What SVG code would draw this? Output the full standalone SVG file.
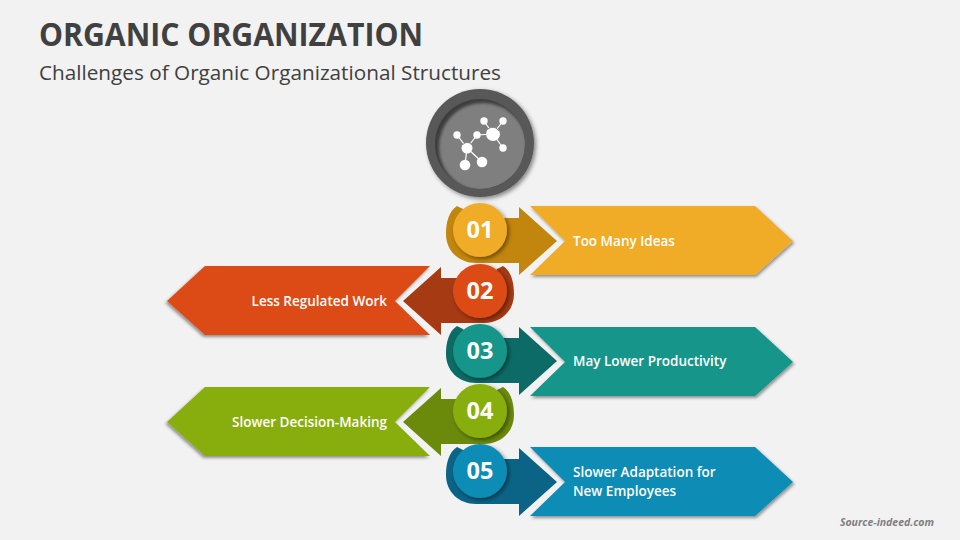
<svg xmlns="http://www.w3.org/2000/svg" width="960" height="540" viewBox="0 0 960 540">
<style>
.title{font:700 32px "Open Sans",sans-serif;fill:#404040}
.sub{font:400 20.730px "Open Sans",sans-serif;fill:#404040}
.lbl{font:600 13.500px "Open Sans",sans-serif;fill:#fff}
.num{font:700 23.500px "Open Sans",sans-serif;fill:#fff;text-anchor:middle}
.src{font:italic 700 10.500px "Open Sans",sans-serif;fill:#7f7f7f;text-anchor:end}
.dot{fill:#fff}
</style>
<defs>
<filter id="s" x="-20%" y="-20%" width="140%" height="140%"><feDropShadow dx="1.500" dy="2" stdDeviation="1.500" flood-color="#000" flood-opacity=".4"/></filter>
<filter id="c" x="-20%" y="-20%" width="140%" height="140%"><feDropShadow dx="2" dy="2" stdDeviation="2" flood-color="#000" flood-opacity=".45"/></filter>
<filter id="b" x="-20%" y="-20%" width="140%" height="140%"><feGaussianBlur stdDeviation="1.500"/></filter>
<clipPath id="ic"><circle cx="480" cy="144" r="45"/></clipPath>
<path id="box" d="M530 206L755 206L793 241L755 275L530 275L565 241Z"/>
<path id="arr" d="M457 206C449 211 446 222 446 234C446 251 459 263 476 263L519 263L519 275L557 241L519 207L519 218L470 218L463 209Z"/>
</defs>
<rect width="960" height="540" fill="#f2f2f2"/>
<text class="title" x="39" y="46" textLength="384" lengthAdjust="spacingAndGlyphs">ORGANIC ORGANIZATION</text>
<text class="sub" x="39" y="80">Challenges of Organic Organizational Structures</text>
<g id="hub">
<circle cx="480" cy="143" r="54" fill="#595959" filter="url(#c)"/>
<circle cx="480" cy="144" r="45" fill="#3d3d3d"/>
<g clip-path="url(#ic)"><circle cx="483" cy="147" r="44" fill="#7f7f7f" filter="url(#b)"/></g>
<path d="M457 135L467 148L465 165M467 148L482 162M467 148L477 135L493 134L484 121M493 134L503 121M493 134L503 148" fill="none" stroke="#fff" stroke-width="1.200"/>
<circle class="dot" cx="457" cy="135" r="3.700"/><circle class="dot" cx="477" cy="135" r="3.700"/><circle class="dot" cx="493" cy="134" r="7"/><circle class="dot" cx="484" cy="121" r="3.700"/><circle class="dot" cx="503" cy="121" r="3.700"/><circle class="dot" cx="503" cy="148" r="3.700"/><circle class="dot" cx="467" cy="148" r="5.500"/><circle class="dot" cx="465" cy="165" r="5.300"/><circle class="dot" cx="482" cy="162" r="5.300"/>
<path d="M488 129A7 7 0 0 1 499 131M462.500 145A5.500 5.500 0 0 1 471.500 144.500" fill="none" stroke="#7f7f7f" stroke-width="1"/>
</g>
<g id="step5">
<use href="#box" y="241" fill="#0f8cb5" filter="url(#s)"/>
<use href="#arr" y="241" fill="#0b6486"/>
<circle cx="480" cy="471" r="27" fill="#0f8cb5" filter="url(#c)"/>
<text class="num" x="480" y="479">05</text>
<text class="lbl" x="573" y="477">Slower Adaptation for</text>
<text class="lbl" x="573" y="496">New Employees</text>
</g>
<g id="step4">
<use href="#box" transform="matrix(-1 0 0 1 960 181)" fill="#88ae0f" filter="url(#s)"/>
<use href="#arr" transform="matrix(-1 0 0 1 960 181)" fill="#6b8a0b"/>
<circle cx="480" cy="411" r="27" fill="#88ae0f" filter="url(#c)"/>
<text class="num" x="480" y="419">04</text>
<text class="lbl" x="387" y="427" text-anchor="end">Slower Decision-Making</text>
</g>
<g id="step3">
<use href="#box" y="121" fill="#12958b" filter="url(#s)"/>
<use href="#arr" y="120" fill="#0c6b66"/>
<circle cx="480" cy="351" r="27" fill="#12958b" filter="url(#c)"/>
<text class="num" x="480" y="359">03</text>
<text class="lbl" x="573" y="366">May Lower Productivity</text>
</g>
<g id="step2">
<use href="#box" transform="matrix(-1 0 0 1 960 60)" fill="#dc4c18" filter="url(#s)"/>
<use href="#arr" transform="matrix(-1 0 0 1 960 60)" fill="#a63a12"/>
<circle cx="480" cy="291" r="27" fill="#dc4c18" filter="url(#c)"/>
<text class="num" x="480" y="299">02</text>
<text class="lbl" x="387" y="306" text-anchor="end">Less Regulated Work</text>
</g>
<g id="step1">
<use href="#box" fill="#f0ac28" filter="url(#s)"/>
<use href="#arr" fill="#c2860f"/>
<circle cx="480" cy="230" r="27" fill="#f0ac28" filter="url(#c)"/>
<text class="num" x="480" y="238">01</text>
<text class="lbl" x="573" y="246">Too Many Ideas</text>
</g>
<text class="src" x="934" y="526">Source-indeed.com</text>
</svg>
